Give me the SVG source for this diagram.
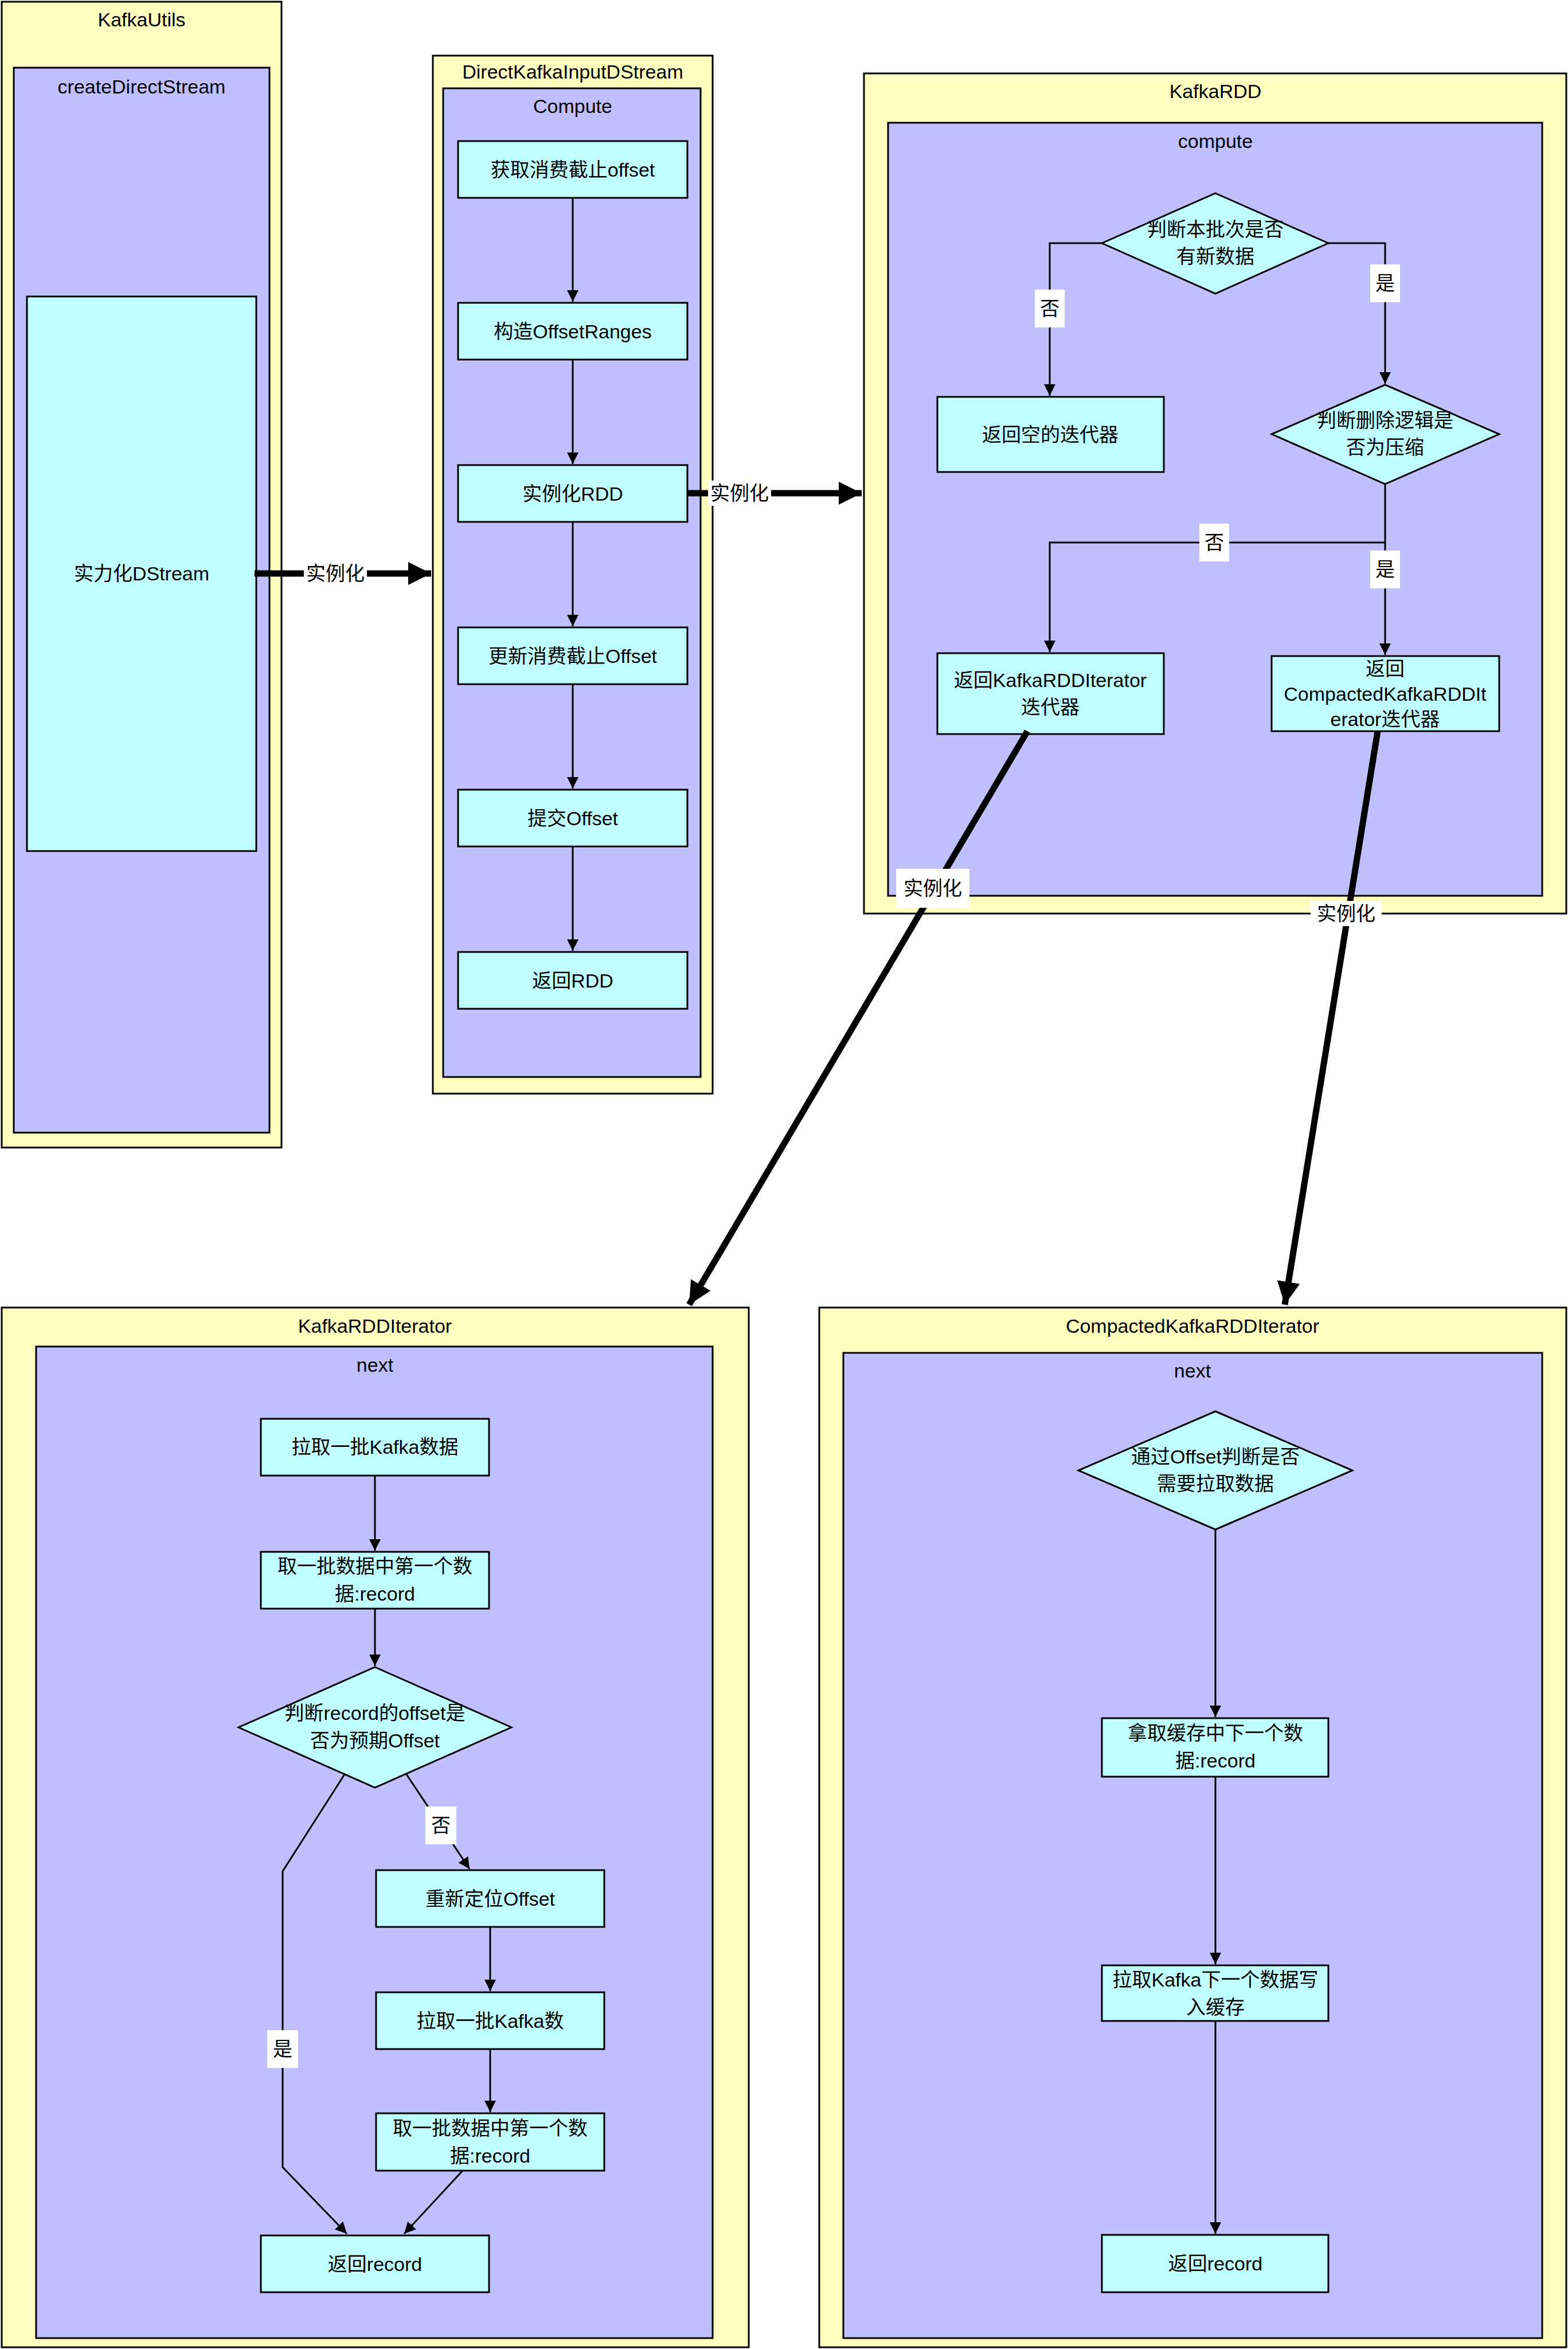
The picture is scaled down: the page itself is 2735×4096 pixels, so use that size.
<svg xmlns="http://www.w3.org/2000/svg" width="2735" height="4096" viewBox="0 0 2735 4096">
<style>
text{font-family:"Liberation Sans","Noto Sans CJK SC",sans-serif;font-size:34px;fill:#000;text-anchor:middle;dominant-baseline:central}
.y{fill:#FFFFC0;stroke:#000;stroke-width:3}
.p{fill:#C0C0FF;stroke:#000;stroke-width:3}
.c{fill:#C0FFFF;stroke:#000;stroke-width:3}
.l{fill:none;stroke:#000;stroke-width:3;marker-end:url(#a)}
.t{fill:none;stroke:#000;stroke-width:11;marker-end:url(#b)}
.w{fill:#fff}
</style>
<defs>
<marker id="a" markerUnits="userSpaceOnUse" markerWidth="24" markerHeight="24" refX="20" refY="10" orient="auto"><path d="M0,0 L20,10 L0,20 Z"/></marker>
<marker id="b" markerUnits="userSpaceOnUse" markerWidth="50" markerHeight="50" refX="40" refY="20" orient="auto"><path d="M0,0 L40,20 L0,40 Z"/></marker>
</defs>
<rect width="2735" height="4096" fill="#fff"/>
<g id="kafkautils"><rect class="y" x="3" y="3" width="488" height="1998"/><text x="247" y="34">KafkaUtils</text>
<rect class="p" x="24" y="118" width="446" height="1857"/><text x="247" y="151">createDirectStream</text>
<rect class="c" x="47" y="517" width="400" height="967"/><text x="247" y="1000">实力化DStream</text></g>
<g id="dstream"><rect class="y" x="755" y="97" width="488" height="1810"/><text x="999" y="125">DirectKafkaInputDStream</text>
<rect class="p" x="773" y="154" width="449" height="1724"/><text x="999" y="185">Compute</text>
<rect class="c" x="799" y="246" width="400" height="99"/><text x="999" y="296">获取消费截止offset</text>
<rect class="c" x="799" y="528" width="400" height="99"/><text x="999" y="578">构造OffsetRanges</text>
<rect class="c" x="799" y="811" width="400" height="99"/><text x="999" y="861">实例化RDD</text>
<rect class="c" x="799" y="1094" width="400" height="99"/><text x="999" y="1144">更新消费截止Offset</text>
<rect class="c" x="799" y="1377" width="400" height="99"/><text x="999" y="1427">提交Offset</text>
<rect class="c" x="799" y="1660" width="400" height="99"/><text x="999" y="1710">返回RDD</text></g>
<g id="kafkardd"><rect class="y" x="1507" y="128" width="1225" height="1465"/><text x="2120" y="159">KafkaRDD</text>
<rect class="p" x="1549" y="214" width="1141" height="1348"/><text x="2120" y="246">compute</text>
<polygon class="c" points="2120,337 2317,424 2120,512 1922,424"/><text x="2120" y="400">判断本批次是否</text><text x="2120" y="447">有新数据</text>
<rect class="c" x="1635" y="692" width="395" height="131"/><text x="1832" y="758">返回空的迭代器</text>
<polygon class="c" points="2416,671 2615,757 2416,844 2218,757"/><text x="2416" y="733">判断删除逻辑是</text><text x="2416" y="780">否为压缩</text>
<rect class="c" x="1635" y="1139" width="395" height="141"/><text x="1832" y="1186">返回KafkaRDDIterator</text><text x="1832" y="1233">迭代器</text>
<rect class="c" x="2218" y="1144" width="397" height="131"/><text x="2416" y="1166">返回</text><text x="2416" y="1210">CompactedKafkaRDDIt</text><text x="2416" y="1254">erator迭代器</text></g>
<g id="kafkardditerator"><rect class="y" x="3" y="2280" width="1303" height="1813"/><text x="654" y="2312">KafkaRDDIterator</text>
<rect class="p" x="63" y="2348" width="1180" height="1729"/><text x="654" y="2380">next</text>
<rect class="c" x="455" y="2474" width="398" height="99"/><text x="654" y="2523">拉取一批Kafka数据</text>
<rect class="c" x="455" y="2706" width="398" height="99"/><text x="654" y="2731">取一批数据中第一个数</text><text x="654" y="2779">据:record</text>
<polygon class="c" points="654,2907 892,3012 654,3117 416,3012"/><text x="654" y="2987">判断record的offset是</text><text x="654" y="3035">否为预期Offset</text>
<rect class="c" x="656" y="3261" width="398" height="99"/><text x="855" y="3311">重新定位Offset</text>
<rect class="c" x="656" y="3474" width="398" height="99"/><text x="855" y="3524">拉取一批Kafka数</text>
<rect class="c" x="656" y="3685" width="398" height="100"/><text x="855" y="3711">取一批数据中第一个数</text><text x="855" y="3759">据:record</text>
<rect class="c" x="455" y="3898" width="398" height="99"/><text x="654" y="3948">返回record</text></g>
<g id="compacted"><rect class="y" x="1429" y="2280" width="1303" height="1813"/><text x="2080" y="2312">CompactedKafkaRDDIterator</text>
<rect class="p" x="1471" y="2359" width="1219" height="1718"/><text x="2080" y="2390">next</text>
<polygon class="c" points="2120,2461 2359,2564 2120,2667 1881,2564"/><text x="2120" y="2540">通过Offset判断是否</text><text x="2120" y="2587">需要拉取数据</text>
<rect class="c" x="1922" y="2996" width="395" height="102"/><text x="2120" y="3022">拿取缓存中下一个数</text><text x="2120" y="3070">据:record</text>
<rect class="c" x="1922" y="3427" width="395" height="97"/><text x="2120" y="3452">拉取Kafka下一个数据写</text><text x="2120" y="3500">入缓存</text>
<rect class="c" x="1922" y="3897" width="395" height="100"/><text x="2120" y="3947">返回record</text></g>
<g id="connectors">
<path class="l" d="M999,345 V526"/><path class="l" d="M999,627 V809"/><path class="l" d="M999,910 V1092"/><path class="l" d="M999,1193 V1375"/><path class="l" d="M999,1476 V1658"/>
<path class="t" d="M444,1000 H752"/><rect class="w" x="530" y="978" width="110" height="44"/><text x="585" y="1000">实例化</text>
<path class="t" d="M1199,860 H1503"/><rect class="w" x="1235" y="838" width="110" height="44"/><text x="1290" y="860">实例化</text>
<path class="l" d="M1922,424 H1831 V690"/><rect class="w" x="1805" y="505" width="52" height="66"/><text x="1831" y="538">否</text>
<path class="l" d="M2317,424 H2416 V669"/><rect class="w" x="2390" y="461" width="52" height="66"/><text x="2416" y="494">是</text>
<path class="l" d="M2416,844 V946 H1831 V1137"/><rect class="w" x="2092" y="913" width="52" height="66"/><text x="2118" y="946">否</text>
<path class="l" d="M2416,946 V1142"/><rect class="w" x="2390" y="960" width="52" height="66"/><text x="2416" y="993">是</text>
<path class="t" d="M1792,1275 L1202,2275"/><rect class="w" x="1563" y="1515" width="128" height="68"/><text x="1627" y="1549">实例化</text>
<path class="t" d="M2403,1275 L2241,2275"/><rect class="w" x="2286" y="1571" width="124" height="44"/><text x="2348" y="1593">实例化</text>
<path class="l" d="M654,2573 V2704"/><path class="l" d="M654,2805 V2905"/>
<path class="l" d="M601,3094 L493,3263 V3779 L605,3895"/><rect class="w" x="466" y="3540" width="54" height="66"/><text x="493" y="3573">是</text>
<path class="l" d="M709,3094 L819,3259"/><rect class="w" x="742" y="3150" width="54" height="66"/><text x="769" y="3183">否</text>
<path class="l" d="M855,3360 V3472"/><path class="l" d="M855,3573 V3683"/>
<path class="l" d="M807,3785 L705,3895"/>
<path class="l" d="M2120,2667 V2994"/><path class="l" d="M2120,3098 V3425"/><path class="l" d="M2120,3524 V3895"/>
</g>
</svg>
